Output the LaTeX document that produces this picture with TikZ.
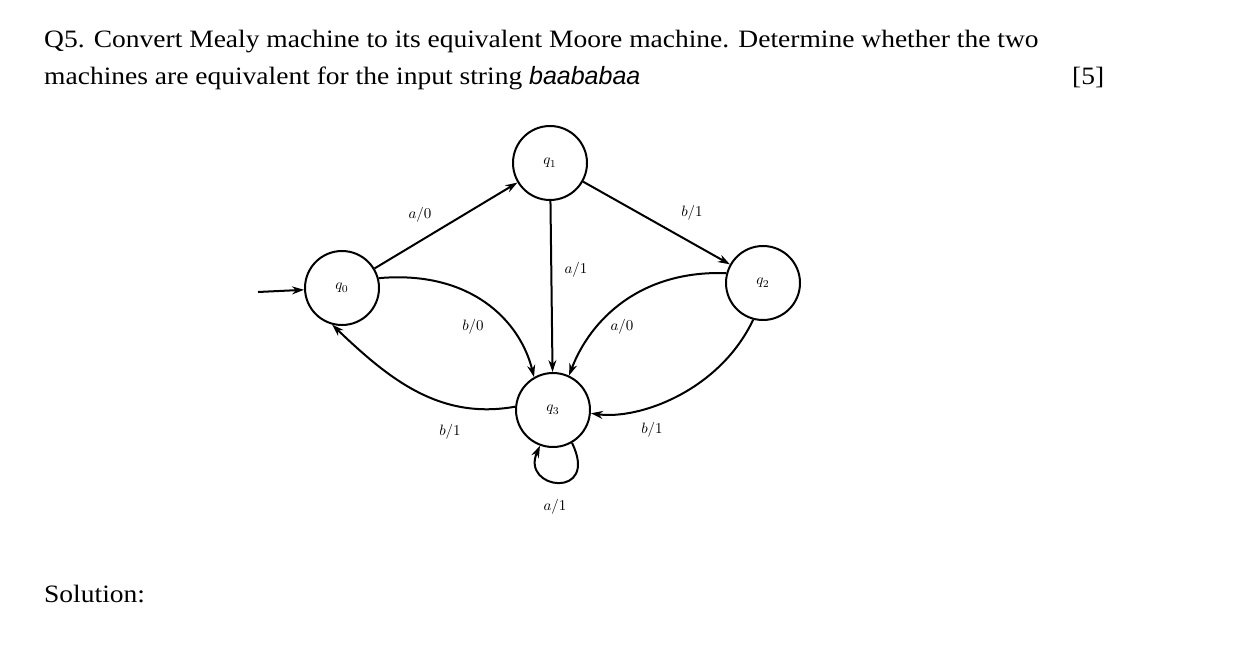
\documentclass[tikz,border=0pt]{standalone}
\usepackage{fontspec}
\setmainfont[FakeStretch=1.1]{Liberation Serif}
\newfontfamily\lsans{Liberation Sans}
\usetikzlibrary{arrows.meta}
\newcommand\mylbl[1]{\scalebox{1.5}{$#1$}}
\begin{document}
\begin{tikzpicture}[x=1pt,y=-1pt,
  st/.style={circle,draw,line width=2pt,minimum size=74pt,inner sep=0pt},
  ed/.style={line width=2pt,-{Stealth[length=12pt,width=8pt]}},
  lb/.style={inner sep=0pt},
  tx/.style={anchor=base west,font=\fontsize{25}{25}\selectfont,inner sep=0pt}]
\useasboundingbox (0,0) rectangle (1240,650);
\node[tx] (t1) at (44,48) {Q5. Convert Mealy machine to its equivalent Moore machine. Determine whether the two};
\node[tx] (t2) at (44,85) {machines are equivalent for the input string {\lsans\itshape\fontsize{25}{25}\selectfont baababaa}};
\node[tx] (t3) at (1072,85) {[5]};
\node[tx] (t4) at (44,602) {Solution:};
\node[st] (q1) at (550,163) {\mylbl{q_1}};
\node[st] (q0) at (342,288) {\mylbl{q_0}};
\node[st] (q2) at (763,283) {\mylbl{q_2}};
\node[st] (q3) at (553,410) {\mylbl{q_3}};
\coordinate (s) at (258,292);
\draw[ed] (s) -- (q0);
\draw[ed] (q0) -- (q1);
\draw[ed] (q1) -- (q2);
\draw[ed] (q1) -- (q3);
\draw[ed] (q0.15) .. controls (470,270) and (520,320) .. (q3.120);
\draw[ed] (q2.165) .. controls (640,270) and (590,320) .. (q3.65);
\draw[ed] (q3.175) .. controls (440,420) and (390,380) .. (q0.-105);
\draw[ed] (q2.-105) .. controls (720,390) and (640,420) .. (q3.-5);
\draw[ed] (q3.-60) .. controls (600,500) and (520,490) .. (q3.-110);
\node[lb] (l1) at (420,215) {\mylbl{a/0}};
\node[lb] (l2) at (692,213) {\mylbl{b/1}};
\node[lb] (l3) at (576,270) {\mylbl{a/1}};
\node[lb] (l4) at (473,327) {\mylbl{b/0}};
\node[lb] (l5) at (622,327) {\mylbl{a/0}};
\node[lb] (l6) at (450,432) {\mylbl{b/1}};
\node[lb] (l7) at (652,430) {\mylbl{b/1}};
\node[lb] (l8) at (555,507) {\mylbl{a/1}};
\end{tikzpicture}
\end{document}
